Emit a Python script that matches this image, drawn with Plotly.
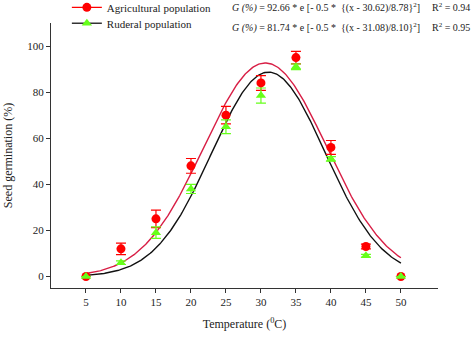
import numpy as np
import plotly.graph_objects as go

temps = [5, 10, 15, 20, 25, 30, 35, 40, 45, 50]
agri = [0, 12, 25, 48, 70, 84, 95, 56, 13, 0]
agri_err = [0, 2.5, 3.8, 3.2, 3.8, 3.2, 2.7, 3.0, 1.0, 0]
rud = [0, 6, 19, 38, 65, 78.5, 91, 51, 9, 0]
rud_err = [0, 0.8, 2.5, 2.0, 3.0, 3.3, 1.2, 1.0, 0.6, 0]

# fitted Gaussian parameters (amplitude, centre, width) as drawn
agri_fit = [92.66, 30.62, 8.78]
rud_fit = [88.7, 31.08, 8.10]

FONT = "Liberation Serif, Times New Roman, DejaVu Serif, serif"
RED = "#ff0000"
GREEN = "#66ff1a"
CURVE_RED = "#d81e45"

xf = np.linspace(min(temps), max(temps), 300)
def gauss(p):
    return p[0] * np.exp(-0.5 * ((xf - p[1]) / p[2]) ** 2)

fig = go.Figure()
fig.add_trace(go.Scatter(x=xf, y=gauss(agri_fit), mode="lines",
                         line=dict(color=CURVE_RED, width=1.4), showlegend=False))
fig.add_trace(go.Scatter(x=xf, y=gauss(rud_fit), mode="lines",
                         line=dict(color="#111111", width=1.4), showlegend=False))
fig.add_trace(go.Scatter(x=temps, y=agri, mode="markers",
                         marker=dict(symbol="circle", size=9, color=RED),
                         error_y=dict(type="data", array=agri_err, color=RED,
                                      thickness=1.2, width=5),
                         showlegend=False))
fig.add_trace(go.Scatter(x=temps, y=rud, mode="markers",
                         marker=dict(symbol="triangle-up", size=9, color=GREEN),
                         error_y=dict(type="data", array=rud_err, color=GREEN,
                                      thickness=1.2, width=5),
                         showlegend=False))
# legend entries
fig.add_trace(go.Scatter(x=[None], y=[None], mode="lines+markers",
                         name="Agricultural population",
                         line=dict(color=RED, width=1.4),
                         marker=dict(symbol="circle", size=9, color=RED),
                         legend="legend"))
fig.add_trace(go.Scatter(x=[None], y=[None], mode="lines+markers",
                         name="Ruderal population",
                         line=dict(color="#333333", width=1.4),
                         marker=dict(symbol="triangle-up", size=9, color=GREEN),
                         legend="legend2"))

axis_common = dict(showline=True, linecolor="#333333", linewidth=1,
                   ticks="outside", ticklen=4, tickcolor="#333333",
                   showgrid=False, zeroline=False,
                   tickfont=dict(family=FONT, size=11, color="#222222"))

fig.update_layout(
    width=474, height=337,
    margin=dict(l=51, r=36, t=23, b=49, autoexpand=False),
    paper_bgcolor="white", plot_bgcolor="white",
    font=dict(family=FONT, size=11, color="#222222"),
    xaxis=dict(range=[0, 55.3], tickvals=temps,
               title=dict(text="Temperature (<sup>0</sup>C)", standoff=12,
                          font=dict(family=FONT, size=12, color="#222222")),
               **axis_common),
    yaxis=dict(range=[-5, 110], tickvals=[0, 20, 40, 60, 80, 100],
               title=dict(text="Seed germination (%)", standoff=12,
                          font=dict(family=FONT, size=12, color="#222222")),
               **axis_common),
    legend=dict(x=0.041, y=1.059, xanchor="left", yanchor="middle",
                bgcolor="rgba(0,0,0,0)", font=dict(family=FONT, size=11)),
    legend2=dict(x=0.041, y=0.999, xanchor="left", yanchor="middle",
                 bgcolor="rgba(0,0,0,0)", font=dict(family=FONT, size=11)),
)

def eq(a, c, w):
    return "<i>G (%)</i> = " + "{:.2f} * e [- 0.5 *  {{(x - {:.2f})/{:.2f}}}<sup>2</sup>]".format(a, c, w)

eq1 = eq(92.66, 30.62, 8.78)
eq2 = eq(81.74, 31.08, 8.10)
for txt, yy in [(eq1, 1.059), (eq2, 0.984)]:
    fig.add_annotation(text=txt, xref="paper", yref="paper", x=0.4625, y=yy,
                       xanchor="left", yanchor="middle", showarrow=False,
                       font=dict(family=FONT, size=10, color="#222222"))
for txt, yy in [("R<sup>2</sup> = 0.94", 1.059), ("R<sup>2</sup> = 0.95", 0.984)]:
    fig.add_annotation(text=txt, xref="paper", yref="paper", x=0.979, y=yy,
                       xanchor="left", yanchor="middle", showarrow=False,
                       font=dict(family=FONT, size=10, color="#222222"))

fig.write_html("out.html")
